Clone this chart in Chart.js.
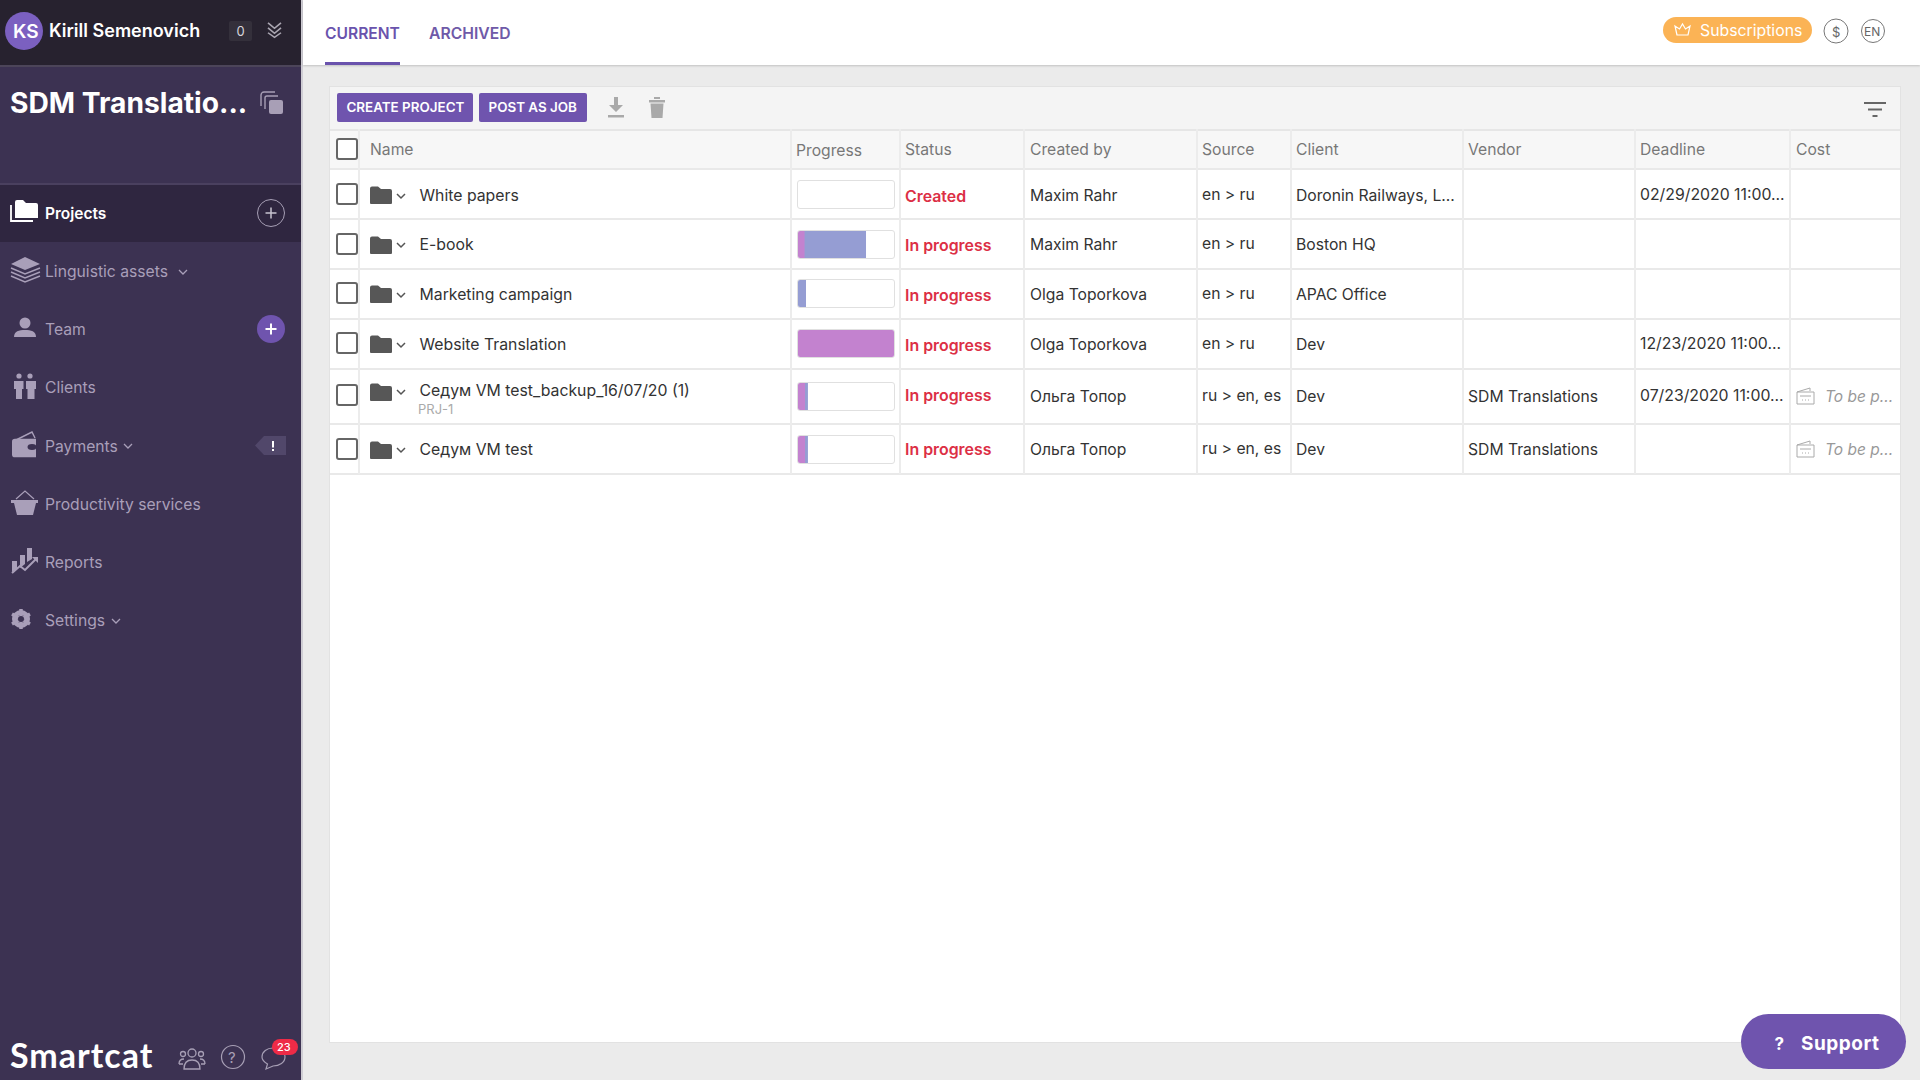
<!DOCTYPE html>
<html><head><meta charset="utf-8">
<script src="https://cdn.jsdelivr.net/npm/chart.js@4/dist/chart.umd.min.js"></script>
<style>
html,body{margin:0;padding:0;width:1920px;height:1080px;overflow:hidden;background:#ebebeb;font-family:Inter,"Noto Sans",sans-serif;color:#333}
.a{position:absolute;white-space:nowrap}
.t{position:absolute;white-space:nowrap;transform:translateY(-50%);line-height:1}
svg{position:absolute;overflow:visible}
.box{position:absolute;background:#fff;border:1.5px solid #e0e0e0;border-radius:3px;box-sizing:border-box;overflow:hidden}
.box canvas{display:block}
.cb{position:absolute;width:22px;height:22px;border:2.5px solid #666;border-radius:3px;background:#fff;box-sizing:border-box}
.nav{color:#a99fb9;font-size:15.7px}
</style></head><body>
<div id="root"></div>
<script>
const projectNames=["White papers","E-book","Marketing campaign","Website Translation","Седум VM test_backup_16/07/20 (1)","Седум VM test"];
const projectCodes=["","","","","PRJ-1",""];
const statuses=["Created","In progress","In progress","In progress","In progress","In progress"];
const creators=["Maxim Rahr","Maxim Rahr","Olga Toporkova","Olga Toporkova","Ольга Топор","Ольга Топор"];
const sources=["en > ru","en > ru","en > ru","en > ru","ru > en, es","ru > en, es"];
const clients=["Doronin Railways, L...","Boston HQ","APAC Office","Dev","Dev","Dev"];
const vendors=["","","","","SDM Translations","SDM Translations"];
const deadlines=["02/29/2020 11:00...","","","12/23/2020 11:00...","07/23/2020 11:00...",""];
const costs=["","","","","To be p...","To be p..."];
const progressStageOne=[0,6.5,0,100,7,7];
const progressStageTwo=[0,64,8,0,3,3];
const columnHeaders=["Name","Progress","Status","Created by","Source","Client","Vendor","Deadline","Cost"];
const navItems=["Projects","Linguistic assets","Team","Clients","Payments","Productivity services","Reports","Settings"];

// layout (separate from data)
const root=document.getElementById('root');
const rowLines=[169,219,269,318.5,368.5,424,473.5];
const rowCenters=[194.5,244,293.5,343.5,396,449];
const statusCenters=[196.5,245.5,295.5,346,396,449.5];
const colLines=[359,791,900,1024,1197,1290.5,1462.5,1634.5,1790];
const headerX=[370,796,905,1030,1202,1296,1468,1640,1796];
const navY=[213.7,271.7,329.7,387.7,446.7,504.7,562.7,620.7];
const stageOneColor="#c382cf",stageTwoColor="#959dd3";
const nameFont='color:#333;font-size:15.8px';
const cellFont='color:#333;font-size:15.7px';

function el(css,html,cls){const d=document.createElement('div');d.className=cls||'a';d.style.cssText=css;if(html!==undefined)d.textContent=html;root.appendChild(d);return d;}
function txt(x,y,s,css){return el(`left:${x}px;top:${y}px;${css||''}`,s,'t');}
function svg(x,y,w,h,inner){const n=document.createElementNS('http://www.w3.org/2000/svg','svg');n.setAttribute('width',w);n.setAttribute('height',h);n.setAttribute('viewBox',`0 0 ${w} ${h}`);n.style.cssText=`left:${x}px;top:${y}px;z-index:5`;n.innerHTML=inner;root.appendChild(n);}

// sidebar
el('left:0;top:0;width:301px;height:1080px;background:#3c3252');
el('left:301px;top:0;width:1.5px;height:1080px;background:#cfcdd4');
el('left:0;top:0;width:301px;height:65px;background:#27222f');
el('left:0;top:65px;width:301px;height:2px;background:#4c4559');
el('left:0;top:183px;width:301px;height:2px;background:#4a405f');
el('left:0;top:185px;width:301px;height:57px;background:#2f2640');
el('left:5px;top:12px;width:38px;height:38px;border-radius:50%;background:#7b60c0');
txt(13,31,'KS','color:#fff;font-weight:600;font-size:19px;z-index:2');
txt(49,31,'Kirill Semenovich','color:#fff;font-weight:600;font-size:18px');
el('left:229px;top:21px;width:23px;height:20px;background:#34303b;border-radius:2px');
txt(236.5,31,'0','color:#d8d6dc;font-size:13px');
svg(267,22,15,18,'<path d="M1 1l6.5 6 6.5-6M1 6.5l6.5 6 6.5-6M1 12l6.5 5 6.5-5" transform="scale(1 .9)" fill="none" stroke="#aaa6b2" stroke-width="1.6"/>');
txt(10,103,'SDM Translatio...','color:#fff;font-weight:700;font-size:28.2px');
svg(260,91,24,24,'<path d="M1 15V4a3 3 0 0 1 3-3h11" fill="none" stroke="#a89fb6" stroke-width="1.4"/><path d="M5 18V7a2 2 0 0 1 2-2h11" fill="none" stroke="#a89fb6" stroke-width="1.4"/><rect x="9" y="9" width="14" height="14" rx="2" fill="#a89fb6"/>');

navItems.forEach((n,i)=>{
  if(i===0) txt(45,navY[i],n,'color:#fff;font-weight:600;font-size:15.5px');
  else txt(45,navY[i],n,'').className='t nav';
});
// sidebar icons
svg(10,199,29,25,'<path d="M1 6v16h22" fill="none" stroke="#fff" stroke-width="1.8"/><path d="M5 3a2 2 0 0 1 2-2h6l3 3h10a2 2 0 0 1 2 2v13H5z" fill="#fff"/>');
svg(10,256,31,27,'<path d="M15 1L30 8 15 14 1 8z" fill="#a99fb9"/><path d="M1 12l14 6 15-6M1 16l14 6 15-6M1 20l14 6 15-6" fill="none" stroke="#a99fb9" stroke-width="1.4"/>');
svg(14,317,22,22,'<circle cx="11" cy="6" r="5.5" fill="#a99fb9"/><path d="M0 20c0-6 5-7 11-7s11 1 11 7z" fill="#a99fb9"/>');
svg(14,373,23,27,'<circle cx="5" cy="3" r="2.6" fill="#a99fb9"/><circle cx="16" cy="3" r="2.6" fill="#a99fb9"/><path d="M0 8h9.5v8H8v10H2V16H0zM12 8h10v8h-1.500v10h-7V16H12z" fill="#a99fb9"/>');
svg(12,431,26,27,'<path d="M2 10L20 1l3 6" fill="none" stroke="#a99fb9" stroke-width="1.4"/><path d="M0 12a3 3 0 0 1 3-3h21v22H3a3 3 0 0 1-3-3z" transform="scale(1 .85)" fill="#a99fb9"/><ellipse cx="20" cy="16" rx="4.500" ry="3" fill="#3c3252"/>');
svg(11,490,27,26,'<path d="M5 9L14 1l9 8" fill="none" stroke="#a99fb9" stroke-width="1.200"/><path d="M0 10h27v3h-2l-3 12H6L3 13H0z" fill="#a99fb9"/>');
svg(11,547,28,27,'<path d="M1 14h5v8l-5 3zM9 8h5v9l-5 4zM16 1h5v11l-5 3z" fill="#a99fb9"/><path d="M1 26l8-7 5 4 12-12" fill="none" stroke="#a99fb9" stroke-width="2"/><path d="M21 10h6v6z" fill="#a99fb9"/>');
svg(11,608,20,22,'<circle cx="10" cy="11" r="6.500" fill="none" stroke="#a99fb9" stroke-width="5"/><path d="M10 1v20M1 6l18 10M19 6L1 16" stroke="#a99fb9" stroke-width="3.500"/><circle cx="10" cy="11" r="3" fill="#3c3252"/>');
// nav chevrons
function chev(x,y,c,w){svg(x,y,10,6,`<path d="M1 1l4 4 4-4" fill="none" stroke="${c}" stroke-width="${w||1.300}"/>`);}
chev(178,269,'#a99fb9');chev(123,443,'#a99fb9');chev(111,618,'#a99fb9');
svg(257,199,28,28,'<circle cx="14" cy="14" r="13.500" fill="none" stroke="#a79fb5" stroke-width="1"/><path d="M14 8.500v11M8.500 14h11" stroke="#c8c3d0" stroke-width="1.500"/>');
svg(257,315,28,28,'<circle cx="14" cy="14" r="14" fill="#6f54ae"/><path d="M14 8.500v11M8.500 14h11" stroke="#fff" stroke-width="2"/>');
svg(255,436,31,19,'<path d="M9 0h22v19H9L0 9.500z" fill="#51476a"/><path d="M18 5v6.500M18 13v2" stroke="#fff" stroke-width="2"/>');
txt(10,1055,'Smartcat','color:#fff;font-family:Lato;font-weight:700;font-size:34px;letter-spacing:1px');
svg(178,1047,28,24,'<circle cx="14" cy="6" r="4" fill="none" stroke="#a79fb5" stroke-width="1.300"/><circle cx="5" cy="7" r="2.500" fill="none" stroke="#a79fb5" stroke-width="1.300"/><circle cx="23" cy="7" r="2.500" fill="none" stroke="#a79fb5" stroke-width="1.300"/><path d="M6 22c0-6 3-9 8-9s8 3 8 9zM1 17c0-3 2-5 5-5M27 17c0-3-2-5-5-5M1 17h4M23 17h4" fill="none" stroke="#a79fb5" stroke-width="1.300"/>');
svg(221,1045,24,24,'<circle cx="12" cy="12" r="11.500" fill="none" stroke="#a79fb5" stroke-width="1.200"/>');
txt(228,1057,'?','color:#a79fb5;font-size:15px');
svg(261,1047,25,23,'<path d="M12 1c6.500 0 12 3.500 12 9s-5.500 9-12 9l-7 3 1.500-5C3 15 1 13 1 10c0-5.500 5-9 11-9z" fill="none" stroke="#a79fb5" stroke-width="1.200"/>');
el('left:272px;top:1039px;width:26px;height:16px;border-radius:8px;background:#ee2b47;z-index:6');
txt(277,1047,'23','color:#fff;font-size:11px;z-index:7;font-weight:500');

// top bar
el('left:303px;top:0;width:1617px;height:65px;background:#fff;box-shadow:0 1px 2px rgba(0,0,0,.18)');
txt(325,34,'CURRENT','color:#6a53ad;font-weight:600;font-size:15.6px');
txt(429,34,'ARCHIVED','color:#6f5aa8;font-weight:600;font-size:15.7px');
el('left:325px;top:62px;width:75px;height:3px;background:#6a53ad');
el('left:1663px;top:17px;width:149px;height:26px;border-radius:13px;background:#fbb355');
svg(1674,23,17,14,'<path d="M3 12L1 3l4.500 3L8.500 1l3 5L16 3l-2 9z" fill="none" stroke="#fff" stroke-width="1.200"/>');
txt(1700,30.5,'Subscriptions','color:#fff;font-size:15.8px');
svg(1823,18,26,26,'<circle cx="13" cy="13" r="12" fill="none" stroke="#777" stroke-width="1"/>');
txt(1832,31.500,'$','color:#666;font-size:13px');
svg(1861,19,24,24,'<circle cx="12" cy="12" r="11.500" fill="none" stroke="#777" stroke-width="1"/>');
txt(1864,31.500,'EN','color:#666;font-size:12px');

// panel
el('left:330px;top:87px;width:1570px;height:955px;background:#fff;box-shadow:0 0 0 1px #e2e2e2');
el('left:330px;top:87px;width:1570px;height:42px;background:#f4f4f4');
el('left:330px;top:129px;width:1570px;height:40px;background:#f7f7f7');
el('left:337px;top:93px;width:136px;height:29px;background:#6f54ae;border-radius:2px');
el('left:479px;top:93px;width:108px;height:29px;background:#6f54ae;border-radius:2px');
txt(346.500,107.500,'CREATE PROJECT','color:#fff;font-weight:600;font-size:13.4px');
txt(488.500,107.500,'POST AS JOB','color:#fff;font-weight:600;font-size:13.4px');
svg(607,97,18,21,'<path d="M7 0h4v8h5l-7 7-7-7h5zM1 18h16v2.500H1z" fill="#a9a9a9"/>');
svg(649,97,16,21,'<path d="M0 3h16v2.500H0zM5 0h6v2H5zM1.500 6.500h13L13.500 21h-11z" fill="#a9a9a9"/>');
svg(1864,102,23,16,'<path d="M0 1h22M4 7.500h14M8.500 14h5" stroke="#666" stroke-width="2.200"/>');

// grid lines
el('left:330px;top:129px;width:1570px;height:1.500px;background:#e6e6e6');
rowLines.forEach(y=>el(`left:330px;top:${y-1}px;width:1570px;height:2px;background:#e9e9e9`));
colLines.forEach(x=>el(`left:${x-1}px;top:129px;width:2px;height:345px;background:#ececec`));

// header
columnHeaders.forEach((h,i)=>txt(headerX[i],h==='Progress'?150.5:149.5,h,'color:#777;font-size:15.7px'));
el('left:336px;top:138px;',undefined,'cb');

// rows
projectNames.forEach((name,i)=>{
  const y=rowCenters[i];
  const cbY=[193.500,243.500,293,343,394.500,448.500][i];
  el(`left:336px;top:${cbY-11}px`,undefined,'cb');
  const fy=i===4?391:y;
  svg(370,fy-8.500,22,18,'<path d="M0 2.500A2 2 0 0 1 2 .5h6l3 2.500h9a2 2 0 0 1 2 2V17a1 1 0 0 1-1 1H1a1 1 0 0 1-1-1z" fill="#575757"/>');
  chev(396,fy-2,'#555',1.500);
  if(projectCodes[i]){
    txt(419.5,390.5,name,nameFont);
    txt(418,409,projectCodes[i],'color:#aaa;font-size:13px');
  } else txt(419.5,y+1,name,nameFont);
  txt(905,statusCenters[i],statuses[i],'color:#dc2f45;font-weight:600;font-size:15.9px');
  txt(1030,y+1,creators[i],cellFont);
  txt(1202,y,sources[i],cellFont);
  txt(1296,y+1,clients[i],cellFont);
  txt(1468,y+1,vendors[i],cellFont);
  txt(1640,y,deadlines[i],nameFont);
  if(costs[i]){
    svg(1796,y-9,19,18,'<path d="M1 5h17v12H1zM1 5l13-4v3M4 9h11M6 13h1M9 13h1M12 13h1" fill="none" stroke="#aaa" stroke-width="1"/>');
    txt(1825,y+1,costs[i],'color:#999;font-style:italic;font-size:15.5px');
  }
  // progress bar drawn by Chart.js; zero values are skipped so no hairline shows
  const box=el(`left:797px;top:${y-14.500}px;width:97.500px;height:29px`,undefined,'box');
  const c=document.createElement('canvas');
  c.width=96;c.height=28;
  box.appendChild(c);
  new Chart(c,{type:'bar',
    data:{labels:[name],datasets:[
      {label:'Stage 1',data:[progressStageOne[i]||null],backgroundColor:stageOneColor,borderWidth:0,barPercentage:1,categoryPercentage:1},
      {label:'Stage 2',data:[progressStageTwo[i]||null],backgroundColor:stageTwoColor,borderWidth:0,barPercentage:1,categoryPercentage:1}]},
    options:{indexAxis:'y',responsive:false,maintainAspectRatio:false,animation:false,
      layout:{padding:0},
      plugins:{legend:{display:false},tooltip:{enabled:false},title:{display:false}},
      scales:{x:{display:false,stacked:true,min:0,max:100},y:{display:false,stacked:true}}}
  });
});

// support
el('left:1741px;top:1014px;width:165px;height:55px;border-radius:28px;background:#6f54ae;z-index:8');
svg(1767,1031,24,24,'<circle cx="12" cy="12" r="11" fill="none" stroke="#fff" stroke-width="2"/>');
txt(1774.5,1043.500,'?','color:#fff;font-size:17px;font-weight:700;z-index:9');
txt(1801,1043,'Support','color:#fff;font-size:19px;font-weight:700;letter-spacing:.5px;z-index:9');
</script>
</body></html>
